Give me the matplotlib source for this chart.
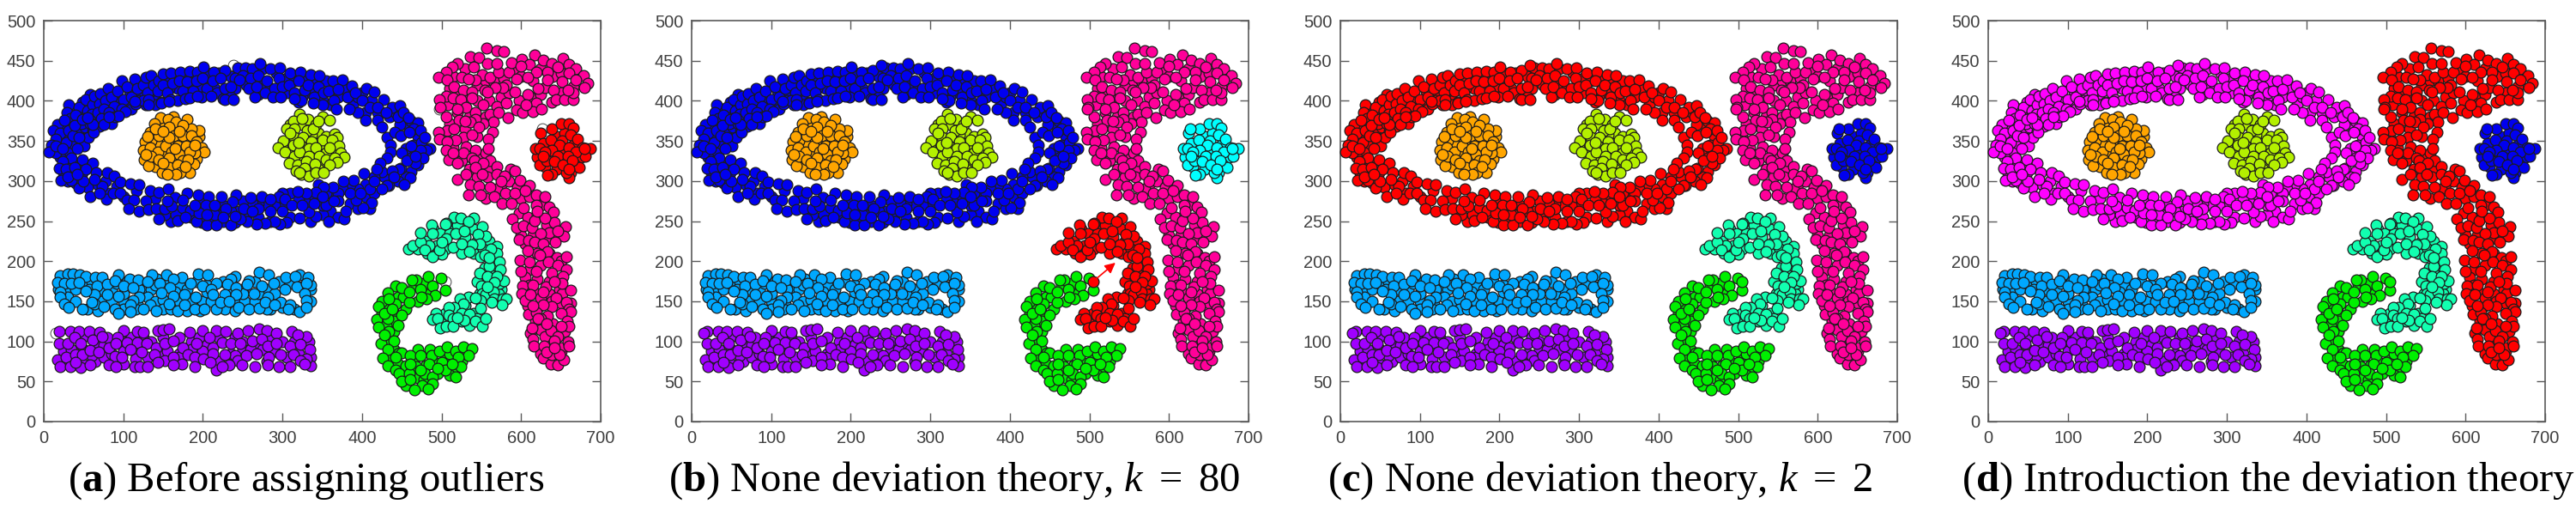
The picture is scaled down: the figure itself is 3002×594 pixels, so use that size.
import numpy as np
import matplotlib
matplotlib.use("Agg")
import matplotlib.pyplot as plt

plt.rcParams['mathtext.fontset'] = 'custom'
plt.rcParams['mathtext.rm'] = 'Liberation Serif'
plt.rcParams['mathtext.it'] = 'Liberation Serif:italic'
plt.rcParams['mathtext.bf'] = 'Liberation Serif:bold'

ring_under = [(20,350),(28,355),(35,345),(30,335),(20,330),(15,335),(28,348),(40,362),(48,355),(24,372),(36,372),(45,365),(52,367),(70,368),(80,375),(85,372),(68,375),(50,390),(48,398),(38,390),(58,408),(66,398),(76,408),(84,398),(92,398),(105,395),(110,390),(108,412),(122,408),(128,395),(138,405),(140,395),(135,412),(155,425),(168,415),(158,415),(180,432),(185,418),(195,415),(208,420),(205,435),(215,415),(220,435),(235,430),(240,415),(255,420),(270,408),(275,440),(275,420),(285,415),(292,435),(305,428),(315,425),(305,410),(328,430),(335,410),(325,405),(342,425),(355,425),(350,400),(360,395),(370,405),(378,415),(388,395),(395,405),(400,410),(405,385),(412,400),(425,385),(435,380),(420,385),(442,385),(455,370),(462,375),(448,370),(470,355),(465,345),(475,348),(485,340),(470,320),(462,335),(455,340),(462,312),(455,305),(445,300),(440,305),(428,305),(425,312),(415,305),(405,295),(395,290),(385,295),(375,290),(365,280),(355,285),(345,295),(340,280),(330,272),(320,278),(310,285),(300,268),(290,270),(280,270),(270,272),(262,272),(250,275),(245,262),(235,262),(225,270),(218,258),(208,262),(200,272),(195,255),(185,255),(172,258),(160,250),(152,258),(140,278),(128,275),(116,288),(100,280),(92,293),(82,285),(78,300),(68,295),(55,292),(48,310),(40,298),(30,300),(25,310),(35,310),(50,322),(42,322),(30,325),(360,262),(370,255),(350,258),(335,250),(310,255),(305,248),(285,250),(270,255),(255,255),(240,248),(225,250),(212,250),(198,248),(370,285),(405,280),(415,285),(385,272),(395,265),(410,265),(350,270),(300,285)]

ring = [(31,395),(29,385),(33,378),(44,392),(40,382),(47,372),(53,401),(55,388),(52,378),(62,395),(60,383),(64,406),(70,396),(68,385),(58,372),(62,362),(71,409),(78,400),(75,390),(72,378),(81,415),(85,405),(88,393),(82,385),(90,380),(98,425),(93,412),(100,402),(98,390),(105,418),(110,405),(114,427),(118,415),(120,400),(115,396),(125,420),(128,429),(130,410),(135,431),(138,420),(125,400),(132,402),(145,425),(143,412),(150,434),(150,420),(148,398),(155,410),(160,435),(162,422),(160,402),(172,436),(170,425),(175,412),(168,400),(183,437),(180,424),(188,412),(193,436),(192,425),(178,403),(201,442),(200,428),(205,415),(198,405),(214,436),(212,425),(218,410),(225,403),(228,438),(222,428),(228,415),(235,405),(244,441),(253,441),(240,428),(250,432),(262,440),(260,428),(258,415),(265,405),(272,446),(270,432),(268,418),(278,410),(285,440),(280,425),(290,415),(288,405),(297,441),(295,428),(300,418),(298,405),(310,435),(308,420),(315,410),(322,436),(320,425),(328,413),(320,398),(335,433),(332,420),(340,405),(346,431),(345,418),(352,410),(363,425),(358,412),(375,426),(370,414),(365,400),(387,419),(382,405),(392,410),(406,415),(400,400),(415,411),(410,392),(427,402),(420,392),(438,392),(430,385),(448,394),(445,380),(452,385),(458,379),(470,373),(465,365),(474,363),(479,354),(481,338),(474,338),(477,329),(467,322),(461,304),(453,295),(449,316),(434,294),(404,376),(395,385),(384,390),(368,390),(351,395),(339,397),(324,400),(315,403),(420,376),(425,367),(431,354),(436,345),(436,336),(431,329),(423,322),(418,315),(441,361),(449,356),(459,361),(462,344),(450,335),(456,326),(467,331),(447,315),(438,313),(402,309),(389,301),(376,300),(364,292),(352,292),(342,286),(330,285),(319,287),(431,294),(425,290),(412,273),(401,267),(393,276),(377,253),(358,250),(342,256),(333,261),(321,254),(297,246),(290,249),(278,247),(267,246),(256,249),(274,281),(260,279),(296,281),(303,277),(285,277),(17,370),(12,363),(21,360),(31,363),(37,356),(15,352),(10,345),(7,336),(15,344),(24,340),(26,376),(39,369),(51,344),(56,354),(42,340),(44,354),(63,361),(76,370),(62,370),(48,377),(55,379),(35,329),(24,324),(48,327),(61,322),(19,316),(22,301),(28,315),(39,317),(53,315),(66,310),(35,301),(44,291),(58,280),(79,277),(73,293),(64,302),(80,311),(88,306),(96,299),(87,285),(96,285),(109,297),(120,296),(105,276),(113,276),(107,265),(120,262),(132,264),(134,288),(145,286),(156,290),(165,279),(141,265),(152,265),(145,253),(166,258),(168,251),(175,267),(180,285),(194,283),(192,249),(205,245),(217,245),(207,281),(223,281),(204,270),(215,258),(235,245),(242,283),(237,274),(251,265),(229,265),(184,263),(195,260),(247,253),(161,269),(148,397),(132,395),(114,399),(103,387),(94,381),(82,380),(157,399),(183,404),(193,406),(210,406),(228,402),(238,402),(235,418),(246,426),(270,265),(285,262),(300,262),(312,270),(325,270),(340,272),(355,270),(370,275),(385,285),(410,290),(415,300),(440,305),(70,285),(50,300),(30,305),(42,308),(240,256),(225,255),(205,258),(178,255),(155,275),(175,276),(190,270),(215,270),(262,262),(350,280),(365,275),(380,262),(398,285)]
ring_outlier = [(238,444)]

orange_under = [(140,345),(150,350),(160,345),(172,350),(182,350),(195,355),(155,340),(165,325),(175,335),(145,345),(135,350),(128,343),(140,328),(150,333),(192,328),(175,315),(160,312),(150,372),(165,368),(178,362),(145,320),(140,318)]
orange = [(147,379),(163,380),(180,377),(139,371),(195,363),(134,361),(156,377),(166,374),(185,365),(145,356),(157,367),(175,369),(164,356),(175,356),(185,356),(127,349),(125,338),(134,342),(143,336),(153,344),(168,344),(179,344),(192,349),(198,342),(202,336),(190,335),(157,354),(161,336),(170,333),(183,336),(126,327),(132,319),(135,331),(145,327),(157,329),(175,326),(189,321),(149,311),(157,317),(168,320),(183,311),(172,311),(166,308),(155,308),(181,327),(140,365),(130,355),(150,362),(170,362),(165,340),(150,322),(178,318),(190,345),(128,333)]

lime_under = [(310,345),(320,345),(330,350),(345,360),(355,355),(365,340),(350,340),(340,335),(325,325),(310,335),(300,345),(345,325),(355,335),(335,315),(320,325),(350,320),(325,370),(337,358),(310,370),(335,315),(345,315)]
lime = [(321,383),(332,377),(350,380),(359,376),(314,375),(342,370),(305,365),(315,365),(331,363),(339,365),(366,359),(369,354),(315,354),(301,350),(326,354),(350,351),(337,349),(362,351),(294,342),(303,336),(314,345),(324,344),(371,344),(333,340),(342,342),(359,342),(373,335),(377,330),(315,331),(321,336),(333,331),(346,331),(355,327),(366,329),(309,322),(319,320),(330,324),(341,321),(369,323),(359,320),(317,313),(328,316),(324,308),(333,306),(342,310),(352,311),(321,310),(325,378),(345,375),(310,360),(320,348)]

column_under = [(515,430),(530,440),(545,420),(555,425),(565,425),(578,428),(590,438),(600,430),(615,425),(625,440),(640,430),(650,435),(665,418),(520,412),(510,415),(530,405),(545,400),(560,400),(575,405),(585,410),(598,400),(612,405),(625,408),(638,398),(650,410),(508,395),(520,385),(535,380),(555,380),(510,372),(530,365),(545,355),(505,355),(515,342),(525,325),(545,330),(555,335),(560,315),(535,315),(545,305),(558,305),(575,295),(585,300),(595,292),(570,290),(555,278),(580,285),(600,278),(610,280),(625,270),(597,260),(608,255),(620,258),(632,245),(600,232),(615,232),(632,228),(645,230),(605,222),(620,210),(635,210),(645,205),(610,190),(625,195),(650,200),(605,180),(620,178),(635,175),(648,165),(610,170),(620,160),(635,160),(652,160),(608,145),(622,143),(638,150),(650,148),(662,148),(618,125),(640,122),(655,112),(625,115),(640,95),(625,85),(650,88),(635,105),(612,110)]
column = [(557,466),(569,462),(578,461),(536,455),(547,454),(558,447),(520,447),(513,442),(506,436),(496,429),(507,426),(516,418),(525,429),(540,442),(551,433),(543,426),(534,427),(561,429),(572,436),(570,447),(585,436),(588,448),(601,452),(617,457),(610,445),(600,443),(628,451),(639,447),(653,453),(646,442),(660,445),(669,440),(660,435),(678,431),(684,422),(680,417),(669,426),(633,436),(619,436),(608,429),(594,427),(581,420),(577,417),(567,417),(527,413),(538,411),(554,413),(558,411),(506,406),(497,401),(498,392),(515,404),(524,401),(531,392),(543,385),(538,404),(552,395),(569,393),(561,383),(572,385),(581,397),(583,379),(594,389),(602,385),(608,408),(592,411),(619,397),(615,386),(626,390),(606,395),(630,417),(641,413),(633,426),(651,424),(644,402),(655,401),(666,402),(666,410),(659,413),(621,415),(565,374),(552,372),(506,380),(522,376),(507,363),(496,361),(497,352),(516,365),(542,377),(536,374),(547,367),(564,361),(559,352),(559,340),(527,354),(538,358),(518,351),(507,349),(506,338),(509,327),(520,322),(531,343),(543,338),(527,335),(538,329),(541,326),(561,326),(552,322),(520,302),(531,308),(542,317),(551,308),(569,318),(587,315),(592,313),(570,308),(599,301),(579,306),(536,295),(547,293),(534,283),(549,283),(561,292),(566,281),(576,272),(610,294),(619,283),(630,281),(592,285),(605,288),(588,272),(603,267),(619,270),(635,268),(641,261),(589,253),(594,242),(603,244),(642,248),(656,243),(654,231),(643,224),(635,236),(646,238),(614,242),(617,251),(630,254),(624,235),(597,227),(609,226),(617,224),(628,222),(633,212),(608,213),(599,201),(600,187),(610,199),(619,187),(634,199),(623,208),(657,206),(646,195),(639,185),(657,190),(602,169),(601,160),(605,151),(615,170),(631,168),(653,181),(651,172),(662,164),(642,174),(612,158),(624,154),(644,154),(657,149),(660,140),(662,137),(639,144),(628,146),(609,134),(619,136),(633,132),(650,135),(624,128),(658,125),(614,117),(630,106),(637,113),(660,119),(646,106),(615,103),(616,94),(629,94),(650,92),(659,100),(660,94),(642,101),(628,79),(637,72),(646,71),(654,77),(639,83),(648,83),(632,87),(642,92),(621,128),(650,119),(632,122),(520,390),(530,375),(515,335),(575,300),(620,262),(628,162),(615,145)]
column_outlier = [(497,390)]

teal_under = [(490,240),(498,235),(512,240),(520,245),(530,230),(540,240),(545,225),(555,220),(560,225),(565,205),(565,195),(560,185),(570,170),(575,165),(557,175),(545,175),(548,160),(572,160),(480,225),(470,215),(482,210),(494,220),(505,215),(510,235),(525,210),(540,210),(552,215),(530,145),(520,140),(505,128),(498,125),(525,125),(540,135),(535,120),(505,135),(545,128),(560,165),(573,172)]
teal = [(516,255),(524,254),(540,254),(488,245),(506,247),(534,249),(551,243),(556,231),(546,233),(569,218),(570,210),(573,199),(574,190),(578,176),(562,215),(548,222),(538,221),(515,217),(525,222),(506,228),(518,235),(529,238),(495,210),(500,209),(484,220),(549,206),(554,208),(554,192),(560,194),(548,185),(558,181),(570,181),(566,173),(550,169),(551,160),(556,158),(565,162),(566,153),(577,153),(581,153),(576,146),(563,149),(549,151),(549,141),(534,155),(543,154),(523,153),(527,147),(516,142),(509,142),(493,135),(489,127),(495,128),(509,133),(515,128),(498,117),(506,119),(515,119),(525,135),(535,134),(529,126),(542,125),(551,119),(555,129),(458,215),(464,220),(474,224),(474,236),(479,214),(489,206),(497,214),(489,234),(505,246),(500,224),(535,212),(560,205),(558,168),(520,130)]

green_under = [(425,135),(430,148),(440,135),(445,155),(452,155),(465,170),(478,172),(485,160),(470,150),(455,140),(425,125),(440,125),(430,120),(440,112),(428,100),(435,80),(445,72),(455,62),(465,75),(480,70),(490,75),(505,80),(515,65),(525,75),(530,85),(510,85),(495,60),(470,55),(455,45),(478,52),(440,90),(470,90),(485,90),(440,145),(425,150),(510,58)]
green = [(499,179),(505,164),(483,181),(468,177),(463,177),(489,169),(442,169),(432,161),(450,167),(473,165),(492,157),(481,153),(460,149),(442,147),(421,143),(434,153),(450,133),(419,127),(432,129),(445,120),(421,118),(434,112),(440,101),(424,97),(432,90),(447,86),(426,79),(432,70),(442,64),(450,86),(461,82),(474,82),(487,82),(497,88),(507,93),(518,88),(527,93),(538,91),(534,82),(521,80),(500,74),(484,72),(468,68),(455,70),(447,60),(460,60),(479,60),(489,56),(505,64),(518,56),(524,68),(450,50),(461,52),(476,45),(489,47),(466,40),(483,41),(513,72),(442,80),(461,72),(474,64),(495,66),(428,135),(438,140),(428,108),(460,162),(475,155)]

sky_under = [(18,165),(30,165),(40,165),(48,172),(60,175),(72,165),(85,165),(92,172),(105,175),(115,170),(125,165),(135,165),(142,178),(155,175),(170,170),(180,165),(192,175),(205,170),(225,175),(235,165),(250,165),(265,175),(280,165),(295,175),(310,172),(325,168),(335,165),(30,155),(72,150),(85,150),(100,150),(118,147),(130,155),(140,150),(150,152),(170,150),(185,150),(200,150),(210,150),(225,145),(240,150),(252,150),(265,150),(285,140),(300,142),(315,140),(335,150),(335,170),(55,140),(68,138),(100,140),(115,140),(150,140),(160,140),(180,138),(196,138),(228,140),(240,138),(280,140),(70,178),(120,165),(165,162),(205,162),(250,160),(270,160),(290,160),(100,160),(140,170)]
sky = [(21,182),(30,184),(37,184),(45,183),(53,181),(65,180),(73,180),(94,183),(108,178),(119,177),(136,183),(154,183),(174,180),(163,178),(194,184),(206,183),(217,172),(240,181),(235,178),(271,186),(283,183),(258,176),(304,180),(321,183),(332,180),(316,181),(17,173),(26,172),(35,172),(44,173),(57,165),(67,169),(80,171),(89,176),(100,169),(112,167),(130,174),(146,172),(159,167),(184,172),(199,169),(210,165),(231,171),(242,167),(256,171),(274,169),(289,172),(303,165),(318,168),(330,172),(21,162),(21,155),(40,150),(64,158),(80,158),(94,156),(120,155),(112,151),(134,146),(148,161),(163,156),(177,158),(191,155),(213,158),(228,158),(242,158),(264,160),(282,155),(298,149),(310,146),(328,160),(330,151),(26,147),(31,142),(48,140),(64,147),(76,144),(89,140),(94,135),(109,146),(109,137),(125,140),(141,138),(157,147),(168,138),(177,146),(190,140),(202,140),(217,140),(222,149),(233,150),(245,142),(258,140),(271,141),(278,149),(290,146),(307,140),(321,137),(330,142),(60,149),(53,163)]

purple_under = [(25,88),(35,90),(48,105),(50,90),(65,95),(75,95),(80,105),(100,100),(110,105),(125,105),(135,100),(150,105),(170,105),(185,100),(195,105),(205,95),(220,105),(240,105),(250,100),(265,95),(285,105),(300,100),(315,100),(333,100),(25,75),(35,72),(50,72),(65,75),(75,80),(85,85),(100,88),(115,78),(130,80),(145,85),(155,88),(170,85),(185,90),(200,88),(220,75),(235,85),(250,90),(260,90),(275,90),(290,88),(305,80),(320,85),(335,80),(335,70),(100,72),(60,82),(120,95),(170,80),(240,82),(280,75)]
purple = [(19,112),(33,112),(44,112),(57,112),(70,111),(100,113),(93,105),(118,112),(125,111),(143,113),(150,115),(157,116),(183,111),(199,113),(217,113),(229,112),(244,110),(257,113),(271,116),(280,113),(292,110),(312,112),(330,106),(319,108),(19,97),(30,97),(39,105),(46,97),(62,102),(73,106),(82,92),(91,97),(105,99),(118,99),(129,97),(141,92),(152,97),(163,101),(175,92),(192,97),(208,105),(213,92),(224,99),(235,97),(247,97),(262,101),(274,103),(281,94),(292,97),(310,94),(323,96),(334,90),(17,77),(28,80),(40,83),(49,83),(58,89),(69,87),(89,81),(109,90),(98,80),(123,87),(139,83),(152,76),(163,80),(181,83),(190,80),(201,78),(213,85),(228,83),(244,76),(255,82),(267,85),(283,80),(298,83),(314,83),(330,78),(323,76),(21,69),(33,69),(46,67),(58,71),(82,71),(91,69),(114,68),(121,69),(130,69),(143,74),(174,72),(190,69),(217,64),(233,71),(209,74),(224,69),(249,71),(265,69),(281,71),(296,69),(310,69),(328,72),(163,71),(40,74)]
purple_outlier = [(15,110)]

small_under = [(630,345),(645,355),(655,360),(665,345),(650,335),(635,330),(620,330),(675,330),(645,315),(655,328),(668,320),(640,345),(652,350),(630,318),(662,310),(682,340)]
small = [(624,360),(638,365),(650,371),(660,372),(666,366),(662,358),(671,352),(677,342),(687,340),(681,331),(673,317),(660,304),(657,311),(639,308),(633,307),(623,320),(632,326),(618,341),(628,347),(637,351),(648,345),(660,342),(669,336),(639,338),(646,331),(659,331),(623,341),(630,336),(642,324),(653,320),(664,326),(660,315),(680,340),(628,331)]
small_outlier = [(627,365)]
bridge_outlier = [(505,175)]

BLUE, ORANGE, LIME = '#0000f0', '#ffa500', '#b4f000'
PINK, RED, TEAL = '#ff0099', '#ff0000', '#12ffb0'
GREEN, SKY, PURPLE = '#00f000', '#00a8ff', '#a000ff'
CYAN, MAGENTA = '#00ffff', '#ff00ff'

panels = [
    dict(left=51, ring=BLUE, col=PINK, small=RED, teal=TEAL, bridge=None, caption=r"($\mathbf{a}$) Before assigning outliers", cx=357),
    dict(left=806, ring=BLUE, col=PINK, small=CYAN, teal=RED, bridge=RED, caption=r"($\mathbf{b}$) None deviation theory, $k\ =\ $80", cx=1112),
    dict(left=1562, ring=RED, col=PINK, small=BLUE, teal=TEAL, bridge=GREEN, caption=r"($\mathbf{c}$) None deviation theory, $k\ =\ $2", cx=1865),
    dict(left=2317, ring=MAGENTA, col=RED, small=BLUE, teal=TEAL, bridge=GREEN, caption=r"($\mathbf{d}$) Introduction the deviation theory", cx=2643),
]

W, H = 3002, 594
fig = plt.figure(figsize=(W/100, H/100), dpi=100)
AXW, AXH, TOP = 649, 467, 24
EDGE = '#5a5a5a'
SIZE = 85

def draw(ax, pts, color):
    a = np.array(pts)
    ax.scatter(a[:, 0], a[:, 1], s=SIZE, c=color, edgecolors='#1c1c1c', linewidths=0.9, zorder=3, clip_on=False)

for i, p in enumerate(panels):
    ax = fig.add_axes([p['left']/W, 1-(TOP+AXH)/H, AXW/W, AXH/H])
    ax.set_xlim(0, 700)
    ax.set_ylim(0, 500)
    ax.set_xticks(range(0, 701, 100))
    ax.set_yticks(range(0, 501, 50))
    ax.tick_params(direction='in', length=7, width=1, color=EDGE, top=True, right=True,
                   labelsize=14.5, labelcolor='#404040', pad=7)
    for lab in ax.get_xticklabels()+ax.get_yticklabels():
        lab.set_family('Liberation Sans')
    for s in ax.spines.values():
        s.set_color(EDGE)
        s.set_linewidth(1.2)
    draw(ax, ring_under, p['ring'])
    draw(ax, ring, p['ring'])
    draw(ax, orange_under, ORANGE)
    draw(ax, orange, ORANGE)
    draw(ax, lime_under, LIME)
    draw(ax, lime, LIME)
    draw(ax, column_under, p['col'])
    draw(ax, column, p['col'])
    draw(ax, small_under, p['small'])
    draw(ax, small, p['small'])
    draw(ax, teal_under, p['teal'])
    draw(ax, teal, p['teal'])
    draw(ax, green_under, GREEN)
    draw(ax, green, GREEN)
    draw(ax, sky_under, SKY)
    draw(ax, sky, SKY)
    draw(ax, purple_under, PURPLE)
    draw(ax, purple, PURPLE)
    if i == 0:
        for pts in (ring_outlier, column_outlier, purple_outlier, small_outlier, bridge_outlier):
            a = np.array(pts)
            ax.scatter(a[:, 0], a[:, 1], s=SIZE, c='white', edgecolors='#444444', linewidths=0.7, zorder=2)
    else:
        draw(ax, ring_outlier, p['ring'])
        draw(ax, column_outlier, p['col'])
        draw(ax, purple_outlier, PURPLE)
        draw(ax, small_outlier, p['small'])
        draw(ax, bridge_outlier, p['bridge'])
    if i == 1:
        ax.annotate('', xy=(535, 200), xytext=bridge_outlier[0],
                    arrowprops=dict(arrowstyle='-|>', color='red', lw=1.2, mutation_scale=18), zorder=5)
    fig.text(p['cx']/W, 1-572/H, p['caption'], ha='center', va='baseline',
             fontsize=35, family='Liberation Serif', color='black')

fig.savefig('out.png', dpi=100)
